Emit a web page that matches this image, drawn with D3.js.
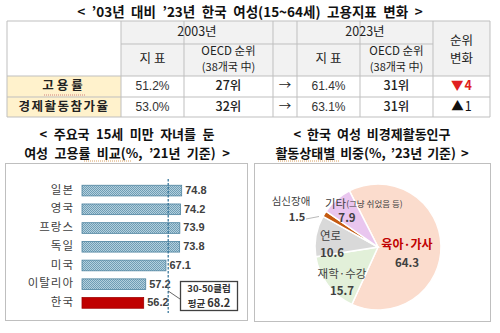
<!DOCTYPE html>
<html>
<head>
<meta charset="utf-8">
<script src="https://cdn.jsdelivr.net/npm/d3@7"></script>
<style>
  html, body { margin: 0; padding: 0; background: #fff; }
  svg { display: block; }
  text { font-family: "Liberation Sans", "Noto Sans CJK KR", sans-serif; }
</style>
</head>
<body>
<svg id="chart" width="500" height="333"></svg>
<script>
// ---- table data ----
const tableRows = ["고용률", "경제활동참가율"];
const value2003 = ["51.2%", "53.0%"];
const rank2003 = ["27위", "32위"];
const value2023 = ["61.4%", "63.1%"];
const rank2023 = ["31위", "31위"];
const rankChange = [{ mark: "▼", n: "4", down: true }, { mark: "▲", n: "1", down: false }];

// ---- bar chart data ----
const countries = ["일본", "영국", "프랑스", "독일", "미국", "이탈리아", "한국"];
const rates = [74.8, 74.2, 73.9, 73.8, 67.1, 57.2, 56.2];
const clubAverage = 68.2;

// ---- pie data ----
const statusLabels = ["육아·가사", "재학·수강", "연로", "심신장애", "기타"];
const statusShares = [64.3, 15.7, 10.6, 1.5, 7.9];

const svg = d3.select("#chart");
const KR = "'Noto Sans CJK KR', sans-serif";
const border = "#bfbfbf";

function heading(g, xp, yp, txt, ws, size) {
  return g.append("text").attr("x", xp).attr("y", yp).attr("text-anchor", "middle")
    .style("font-family", KR).style("font-weight", 700).style("font-size", (size || 13) + "px")
    .style("word-spacing", (ws || 0) + "px").attr("fill", "#111").text(txt);
}

// ===== top title =====
heading(svg, 250, 16.5, "< ’03년 대비 ’23년 한국 여성(15~64세) 고용지표 변화 >", 3.5, 13.5);

// ===== table =====
const colX = [7, 121, 184, 273, 297, 360, 433, 490];
const rowY = [21, 44, 76, 97, 117];
const tg = svg.append("g");

// header fills
tg.append("rect").attr("x", colX[1]).attr("y", rowY[0]).attr("width", colX[7] - colX[1]).attr("height", rowY[2] - rowY[0]).attr("fill", "#f2f2f2");
// row label fills
tg.append("rect").attr("x", colX[0]).attr("y", rowY[2]).attr("width", colX[1] - colX[0]).attr("height", rowY[4] - rowY[2]).attr("fill", "#fff2cc");

// grid lines
const lines = [];
rowY.forEach((y, i) => {
  if (i === 1) lines.push([colX[1], y, colX[6], y]);
  else lines.push([colX[0], y, colX[7], y]);
});
colX.forEach(x => lines.push([x, rowY[0], x, rowY[4]]));
tg.selectAll("line.grid").data(lines).join("line").attr("class", "grid")
  .attr("x1", d => d[0]).attr("y1", d => d[1]).attr("x2", d => d[2]).attr("y2", d => d[3])
  .attr("stroke", border).attr("stroke-width", 1);

const cx = i => (colX[i] + colX[i + 1]) / 2;
function cell(x, y, txt, opts = {}) {
  return tg.append("text").attr("x", x).attr("y", y).attr("text-anchor", "middle")
    .attr("dominant-baseline", "middle")
    .style("font-family", opts.font || KR)
    .style("font-size", (opts.size || 12.5) + "px")
    .style("font-weight", opts.weight || 400)
    .style("letter-spacing", opts.ls || "0px")
    .attr("fill", opts.fill || "#222").text(txt);
}
cell((colX[1] + colX[3]) / 2, 33, "2003년");
cell((colX[4] + colX[6]) / 2, 33, "2023년");
cell(cx(1), 60, "지 표");
cell(cx(4), 60, "지 표");
[2, 5].forEach(i => {
  cell(cx(i), 52, "OECD 순위", { size: 11.5 });
  cell(cx(i), 68.5, "(38개국 中)", { size: 11 });
});
cell(cx(6), 42, "순위", { size: 12.5 });
cell(cx(6), 60, "변화", { size: 12.5 });

const dataRowY = [87, 107.5];
tableRows.forEach((r, i) => {
  cell(cx(0), dataRowY[i], r, { weight: 700, size: 12.5, ls: i === 0 ? "3px" : "1.5px" });
  cell(cx(1), dataRowY[i], value2003[i], { font: "'Liberation Sans', sans-serif", size: 12, fill: "#333" });
  cell(cx(2), dataRowY[i], rank2003[i], { size: 12.5, weight: 500 });
  cell(cx(3), dataRowY[i], "→", { size: 12.5 });
  cell(cx(4), dataRowY[i], value2023[i], { font: "'Liberation Sans', sans-serif", size: 12, fill: "#333" });
  cell(cx(5), dataRowY[i], rank2023[i], { size: 12.5, weight: 500 });
  const rc = rankChange[i];
  const t = cell(cx(6), dataRowY[i], "", { size: 12.5, fill: rc.down ? "#e02020" : "#111", weight: rc.down ? 700 : 400 });
  t.append("tspan").text(rc.mark);
  t.append("tspan").attr("dx", 1).text(rc.n);
});
// spell-check style underline under label
tg.append("line").attr("x1", 44).attr("x2", 86).attr("y1", 95).attr("y2", 95)
  .attr("stroke", "#d08080").attr("stroke-width", 1).attr("stroke-dasharray", "1,1");

// ===== left panel: bar chart =====
const lp = svg.append("g");
heading(lp, 127, 139, "< 주요국 15세 미만 자녀를 둔", 3.5);
heading(lp, 127, 158, "여성 고용률 비교(%, ’21년 기준) >", 3.5);
lp.append("line").attr("x1", 84).attr("x2", 132).attr("y1", 161).attr("y2", 161)
  .attr("stroke", "#d9a060").attr("stroke-width", 1).attr("stroke-dasharray", "1,1");
lp.append("rect").attr("x", 5.5).attr("y", 163.5).attr("width", 242).attr("height", 157)
  .attr("fill", "none").attr("stroke", border);

const defs = svg.append("defs");
const pat = defs.append("pattern").attr("id", "hatch").attr("width", 2).attr("height", 2)
  .attr("patternUnits", "userSpaceOnUse");
pat.append("rect").attr("width", 2).attr("height", 2).attr("fill", "#b4d0dd");
pat.append("rect").attr("width", 1).attr("height", 1).attr("fill", "#6f9db5");
pat.append("rect").attr("x", 1).attr("y", 1).attr("width", 1).attr("height", 1).attr("fill", "#6f9db5");

const x = d3.scaleLinear().domain([26, 80]).range([82, 192.3]);
const y = d3.scaleBand().domain(countries).range([181.5, 312]).paddingInner(0.43).paddingOuter(0.2);

lp.selectAll("rect.bar").data(countries).join("rect").attr("class", "bar")
  .attr("x", x(26)).attr("y", d => y(d))
  .attr("width", (d, i) => x(rates[i]) - x(26)).attr("height", y.bandwidth())
  .attr("fill", d => d === "한국" ? "#c00000" : "url(#hatch)")
  .attr("stroke", d => d === "한국" ? "#a00000" : "#4f84a0").attr("stroke-width", 0.8);

lp.selectAll("text.cat").data(countries).join("text").attr("class", "cat")
  .attr("x", 74).attr("y", d => y(d) + y.bandwidth() / 2).attr("text-anchor", "end")
  .attr("dominant-baseline", "middle").style("font-family", KR).style("font-size", "11.5px")
  .style("letter-spacing", "1px").attr("fill", "#404040").text(d => d);

lp.selectAll("text.val").data(countries).join("text").attr("class", "val")
  .attr("x", (d, i) => x(rates[i]) + 3.5).attr("y", d => y(d) + y.bandwidth() / 2 + 0.5)
  .attr("dominant-baseline", "middle").style("font-size", "11px").style("font-weight", 700)
  .attr("fill", "#404040").text((d, i) => rates[i].toFixed(1));

// 30-50 club average line
lp.append("line").attr("x1", x(clubAverage)).attr("x2", x(clubAverage)).attr("y1", 179).attr("y2", 313)
  .attr("stroke", "#2e6f95").attr("stroke-width", 1.2).attr("stroke-dasharray", "2.5,1.5");
lp.append("line").attr("x1", x(clubAverage)).attr("y1", 291).attr("x2", 180).attr("y2", 299)
  .attr("stroke", "#404040").attr("stroke-width", 0.8);
lp.append("rect").attr("x", 180.5).attr("y", 281.5).attr("width", 57).attr("height", 29)
  .attr("fill", "#fff").attr("stroke", "#404040").attr("stroke-width", 1.3);
lp.append("text").attr("x", 209).attr("y", 289).attr("text-anchor", "middle").attr("dominant-baseline", "middle")
  .style("font-family", KR).style("font-size", "9.5px").style("font-weight", 700).attr("fill", "#333")
  .text("30-50클럽");
const avgT = lp.append("text").attr("x", 209).attr("y", 304).attr("text-anchor", "middle").attr("dominant-baseline", "middle")
  .style("font-family", KR).style("font-size", "9.5px").style("font-weight", 700).attr("fill", "#333");
avgT.append("tspan").text("평균 ");
avgT.append("tspan").style("font-size", "11px").text(clubAverage.toFixed(1));

// ===== right panel: pie =====
const rp = svg.append("g");
heading(rp, 372, 139, "< 한국 여성 비경제활동인구", 3);
heading(rp, 372, 158, "활동상태별 비중(%, ’23년 기준) >", 2);
rp.append("line").attr("x1", 278).attr("x2", 340).attr("y1", 161).attr("y2", 161)
  .attr("stroke", "#d9a060").attr("stroke-width", 1).attr("stroke-dasharray", "1,1");
rp.append("rect").attr("x", 254.5).attr("y", 163.5).attr("width", 236).attr("height", 158)
  .attr("fill", "none").attr("stroke", border);

const pieColors = ["#fbdccd", "#e2f0d9", "#d9d9d9", "#c55a11", "#e9c6ef"];
const startA = -27 * Math.PI / 180;
const pie = d3.pie().sort(null).startAngle(startA).endAngle(startA + 2 * Math.PI)(statusShares);
const arc = d3.arc().innerRadius(0).outerRadius(63);
const pg = rp.append("g").attr("transform", "translate(378,247)");
pg.selectAll("path").data(pie).join("path").attr("d", arc)
  .attr("fill", (d, i) => pieColors[i]).attr("stroke", "#fff").attr("stroke-width", 1.5);

function lbl(xp, yp, txt, opts = {}) {
  return rp.append("text").attr("x", xp).attr("y", yp).attr("text-anchor", opts.anchor || "middle")
    .attr("dominant-baseline", "middle").style("font-family", KR)
    .style("font-size", (opts.size || 11) + "px").style("font-weight", opts.weight || 400)
    .attr("fill", opts.fill || "#404040").text(txt);
}
lbl(407, 246, statusLabels[0], { weight: 700, fill: "#c00000", size: 12 });
lbl(407, 264, statusShares[0].toFixed(1), { weight: 700, size: 11.5 });
lbl(342, 275, "재학·수강", { size: 11.5 });
lbl(342, 292, statusShares[1].toFixed(1), { weight: 700, size: 11.5 });
lbl(320, 237, statusLabels[2], { size: 11.5, anchor: "start" });
lbl(320, 254, statusShares[2].toFixed(1), { weight: 700, size: 11.5, anchor: "start" });
lbl(291, 202, statusLabels[3], { size: 10.5 });
lbl(297, 218, statusShares[3].toFixed(1), { weight: 700, size: 11 });
rp.append("line").attr("x1", 306).attr("y1", 219).attr("x2", 319).attr("y2", 216.5)
  .attr("stroke", "#a6a6a6").attr("stroke-width", 0.8);
const etc = lbl(325, 205, "", { size: 11.5, anchor: "start" });
etc.append("tspan").text(statusLabels[4]);
etc.append("tspan").style("font-size", "8.5px").text("(그냥 쉬었음 등)");
lbl(347, 219, statusShares[4].toFixed(1), { weight: 700, size: 11.5 });
</script>
</body>
</html>
